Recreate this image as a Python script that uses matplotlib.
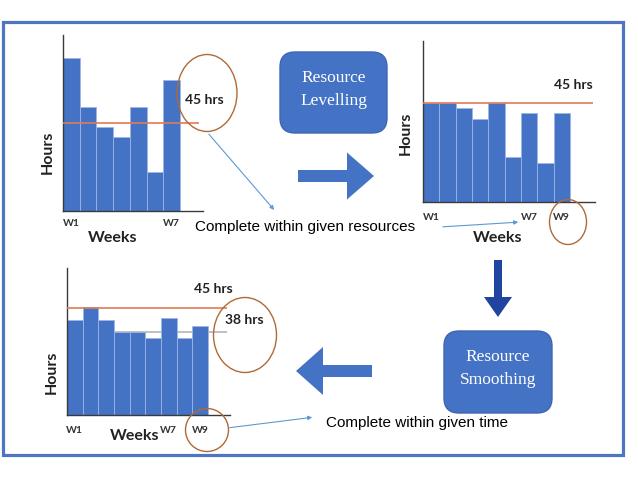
import matplotlib
matplotlib.use("Agg")
import matplotlib.pyplot as plt
import matplotlib.patches as mpatches

# bar heights (hours)
before_hours = [78, 53, 43, 38, 53, 20, 67]
levelled_hours = [45, 45, 42.5, 37.5, 45, 20.5, 40.5, 17.5, 40.5]
smoothed_hours = [40, 45.5, 40, 35, 35, 32.5, 41, 32.5, 37.5]
limit_hours = 45
average_hours = 35

before_ticks = ["W1", "W7"]
after_ticks = ["W1", "W7", "W9"]

BAR = "#4472c4"
ORANGE = "#e07b55"
BROWN = "#b06a35"
LINK = "#5b9bd5"
W, H = 638, 478

fig = plt.figure(figsize=(6.38, 4.78), dpi=100)
fig.patch.set_facecolor("white")


def bar_chart(values, px, bars_right, ytop_val, ticks, tick_idx, pad, lines):
    """px = (x0, ytop, x1, ybase) in figure pixels."""
    x0, ytop, x1, ybase = px
    ax = fig.add_axes([x0 / W, 1 - ybase / H, (x1 - x0) / W, (ybase - ytop) / H])
    ax.patch.set_alpha(0)
    n = len(values)
    bw = (bars_right - x0) / n
    ax.bar(range(n), values, width=1.0, color=BAR, edgecolor="#9fb5e3",
           linewidth=0.6, zorder=2)
    ax.set_xlim(-0.5, -0.5 + (x1 - x0) / bw)
    ax.set_ylim(0, ytop_val)
    for val, end_px, col, z in lines:
        ax.hlines(val, -0.5, -0.5 + (end_px - x0) / bw, color=col, lw=1.2, zorder=z)
    ax.set_xticks(tick_idx)
    ax.set_xticklabels(ticks, fontsize=7.5, fontweight="bold", family="Lato",
                       color="#333333")
    ax.tick_params(axis="x", length=0, pad=pad)
    ax.set_yticks([])
    for s in ("top", "right"):
        ax.spines[s].set_visible(False)
    for s in ("left", "bottom"):
        ax.spines[s].set_color("#3a3a3a")
        ax.spines[s].set_linewidth(1.0)
    return ax


bar_chart(before_hours, (63, 35, 203, 211), 180, 90, before_ticks, [0, 6], 6,
          [(limit_hours, 199, ORANGE, 3)])
bar_chart(levelled_hours, (423, 41, 595, 202), 570, 73, after_ticks, [0, 6, 8], 8,
          [(limit_hours, 593, ORANGE, 3)])
bar_chart(smoothed_hours, (67, 268, 230, 415), 208, 62, after_ticks, [0, 6, 8], 8,
          [(limit_hours, 227, ORANGE, 3), (average_hours, 227, "#b5b5b5", 1)])

# overlay for everything else, 1 unit = 1 pixel
ov = fig.add_axes([0, 0, 1, 1])
ov.set_xlim(0, W)
ov.set_ylim(H, 0)
ov.axis("off")
ov.patch.set_alpha(0)

ov.add_patch(mpatches.Rectangle((3, 22), 620, 433, fill=False, ec="#4f74c4", lw=2.3))

# process boxes
for x, y, w, h, words in [(280, 52, 107, 81, ("Resource", "Levelling")),
                          (444, 331, 108, 82, ("Resource", "Smoothing"))]:
    ov.add_patch(mpatches.FancyBboxPatch((x, y), w, h,
                                         boxstyle="round,pad=0,rounding_size=15",
                                         fc=BAR, ec="#3f66b5", lw=1))
    cx = x + w / 2
    ov.text(cx, y + h * 0.32, words[0], color="white", family="Liberation Serif",
            fontsize=12.5, ha="center", va="center")
    ov.text(cx, y + h * 0.6, words[1], color="white", family="Liberation Serif",
            fontsize=12.5, ha="center", va="center")

# big arrows
ov.add_patch(mpatches.FancyArrow(298, 176, 76, 0, width=12, head_width=47,
                                 head_length=27, length_includes_head=True,
                                 color=BAR, lw=0))
ov.add_patch(mpatches.FancyArrow(372, 371, -76, 0, width=12, head_width=48,
                                 head_length=27, length_includes_head=True,
                                 color=BAR, lw=0))
ov.add_patch(mpatches.FancyArrow(498, 260, 0, 57, width=8, head_width=28,
                                 head_length=20, length_includes_head=True,
                                 color="#1f45a0", lw=0))

# axis words
lab = dict(family="Lato", fontweight="bold", color="#222222", ha="center", va="center")
for x, y in [(113, 238), (498, 238), (135, 436)]:
    ov.text(x, y, "Weeks", fontsize=11.5, **lab)
for x, y in [(48, 152), (406, 133), (52, 372)]:
    ov.text(x, y, "Hours", fontsize=11.5, rotation=90, **lab)

ov.text(204, 100, "45 hrs", fontsize=10, **lab)
ov.text(573, 85, "45 hrs", fontsize=10, **lab)
ov.text(213, 289, "45 hrs", fontsize=10, **lab)
ov.text(244, 320, "38 hrs", fontsize=10, **lab)

# ellipses
for cx, cy, w, h in [(207, 93, 60, 77), (568, 222, 37, 45),
                     (245, 335, 63, 75), (207, 430, 43, 43)]:
    ov.add_patch(mpatches.Ellipse((cx, cy), w, h, fill=False, ec=BROWN, lw=1))

# thin connector arrows and notes
arr = dict(arrowstyle="-|>", color=LINK, lw=0.8, mutation_scale=6)
ov.annotate("", xy=(276, 212), xytext=(207, 132), arrowprops=arr)
ov.annotate("", xy=(521, 222), xytext=(440, 227), arrowprops=arr)
ov.annotate("", xy=(315, 417), xytext=(227, 428), arrowprops=arr)

ov.text(195, 227, "Complete within given resources", family="Liberation Sans",
        fontsize=11, ha="left", va="center", color="black")
ov.text(326, 423, "Complete within given time", family="Liberation Sans",
        fontsize=11, ha="left", va="center", color="black")

fig.savefig("out.png", dpi=100)
